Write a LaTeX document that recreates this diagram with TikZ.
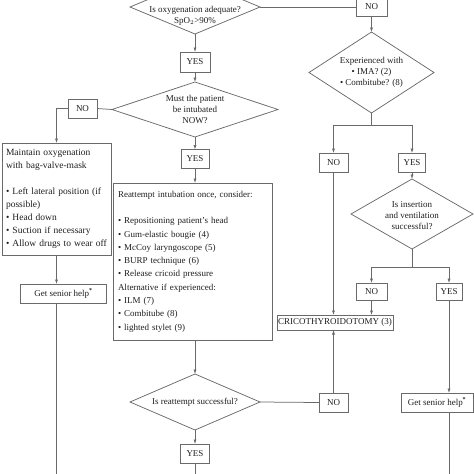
\documentclass[tikz,border=0pt]{standalone}
\usepackage{fontspec}
\setmainfont{Liberation Serif}
\usetikzlibrary{shapes.geometric,arrows.meta}
\definecolor{linegray}{HTML}{6A6A6A}
\definecolor{textgray}{HTML}{1E1E1E}
\begin{document}
\begin{tikzpicture}[x=1pt,y=-1pt,
  line/.style={draw=linegray, line width=0.75pt},
  arr/.style={line, -{Latex[length=4.5pt,width=3.2pt]}},
  box/.style={draw=linegray, line width=0.75pt, inner sep=0pt, outer sep=0pt, text=textgray, font=\fontsize{9}{11}\selectfont, align=center},
  listbox/.style={box, align=left, inner xsep=5pt},
  dia/.style={diamond, draw=linegray, line width=0.75pt, inner sep=0pt, outer sep=0pt},
  dtext/.style={text=textgray, font=\fontsize{9}{11}\selectfont, align=center, inner sep=0pt}
]
\path[use as bounding box] (0,0) rectangle (474,474);
\clip (0,0) rectangle (474,474);

% left / centre column
\node[dia, minimum width=130pt, minimum height=54pt,
  label={[dtext, yshift=-9pt]center:{Is oxygenation adequate?\\SpO$_2$>90\%}}] (d1) at (195,7) {};
\node[box, minimum width=30pt, minimum height=20pt] (yes1) at (195,62) {YES};
\node[dia, minimum width=166pt, minimum height=55pt,
  label={[dtext]center:{Must the patient\\be intubated\\NOW?}}] (d4) at (195,109.5) {};
\node[box, minimum width=29pt, minimum height=19pt] (no4) at (82.5,108.5) {NO};
\node[listbox, minimum width=109pt, minimum height=112pt, text width=101pt, inner xsep=4pt,
  font=\fontsize{9.5}{13}\selectfont] (maint) at (56.5,199)
  {Maintain oxygenation\\with bag-valve-mask\\[13pt]
   • Left lateral position (if\\possible)\\• Head down\\• Suction if necessary\\• Allow drugs to wear off};
\node[box, minimum width=86pt, minimum height=19pt] (gsh1) at (63.5,293.5) {Get senior help\textsuperscript{\textbf{*}}};
\node[box, minimum width=28pt, minimum height=19pt] (yes5) at (195,159) {YES};
\node[listbox, minimum width=159pt, minimum height=157pt, text width=149pt,
  font=\fontsize{9}{13.3}\selectfont] (reatt) at (192.5,261.5)
  {Reattempt intubation once, consider:\\[13.3pt]
   • Repositioning patient's head\\• Gum-elastic bougie (4)\\• McCoy laryngoscope (5)\\
   • BURP technique (6)\\• Release cricoid pressure\\Alternative if experienced:\\
   • ILM (7)\\• Combitube (8)\\• lighted stylet (9)};
\node[dia, minimum width=130pt, minimum height=56pt,
  label={[dtext]center:{Is reattempt successful?}}] (d5) at (195,402) {};
\node[box, minimum width=29pt, minimum height=19pt] (no5) at (333.5,402.5) {NO};
\node[box, minimum width=29pt, minimum height=19pt] (yes6) at (195,453.5) {YES};

% right column
\node[box, minimum width=31pt, minimum height=19pt] (no1) at (371.5,7) {NO};
\node[dia, minimum width=125pt, minimum height=81pt,
  label={[dtext]center:{Experienced with\\• IMA? (2)\\• Combitube? (8)}}] (d2) at (371.5,72.5) {};
\coordinate (br1) at (371.5,125);
\node[box, minimum width=29pt, minimum height=19pt] (no2) at (333.5,162.5) {NO};
\node[box, minimum width=27pt, minimum height=19pt] (yes2) at (412,162.5) {YES};
\node[dia, minimum width=122pt, minimum height=70pt,
  label={[dtext, yshift=-2pt]center:{Is insertion\\and ventilation\\successful?}}] (d3) at (412,214) {};
\coordinate (br2) at (412,267);
\node[box, minimum width=31pt, minimum height=17pt] (no3) at (371.5,291.5) {NO};
\node[box, minimum width=26pt, minimum height=17pt] (yes3) at (449,291.5) {YES};
\node[box, minimum width=116pt, minimum height=15pt] (crico) at (335,322.5) {CRICOTHYROIDOTOMY (3)};
\node[box, minimum width=72pt, minimum height=19pt] (gsh2) at (437,402.5) {Get senior help\textsuperscript{\textbf{*}}};

\coordinate (end1) at (56.5,476);
\coordinate (end2) at (449,476);
\coordinate (end3) at (195,476);

% connectors
\draw[arr] (d1.south) -- (yes1.north);
\draw[line] (d1.east) -- (no1.west);
\draw[arr] (no1.south) -- (d2.north);
\draw[line] (d2.south) -- (br1);
\draw[arr] (br1) -| (no2.north);
\draw[arr] (br1) -| (yes2.north);
\draw[arr] (yes2.south) -- (d3.north);
\draw[line] (d3.south) -- (br2);
\draw[arr] (br2) -| (no3.north);
\draw[arr] (br2) -| (yes3.north);
\draw[arr] (no2.south) -- (no2.south |- crico.north);
\draw[arr] (no3.south) -- (no3.south |- crico.north);
\draw[arr] (yes3.south) -- (yes3.south |- gsh2.north);
\draw[line] (yes3.south |- gsh2.south) -- (end2);
\draw[arr] (yes1.south) -- (d4.north);
\draw[line] (d4.west) -- (no4.east);
\draw[arr] (no4.west) -| (maint.north);
\draw[arr] (maint.south) -- (maint.south |- gsh1.north);
\draw[line] (maint.south |- gsh1.south) -- (end1);
\draw[arr] (d4.south) -- (yes5.north);
\draw[arr] (yes5.south) -- (yes5.south |- reatt.north);
\draw[arr] (yes5.south |- reatt.south) -- (d5.north);
\draw[line] (d5.east) -- (no5.west);
\draw[arr] (no5.north) -- (no5.north |- crico.south);
\draw[arr] (d5.south) -- (yes6.north);
\draw[line] (yes6.south) -- (end3);
\end{tikzpicture}
\end{document}
